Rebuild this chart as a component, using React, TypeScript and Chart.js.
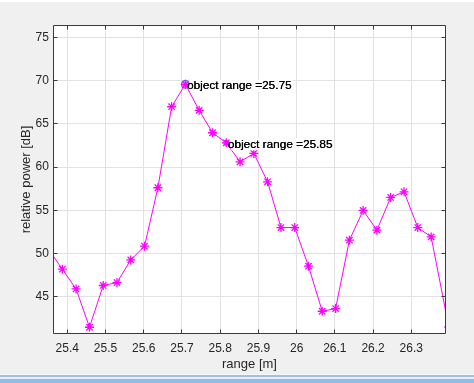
import React, { useEffect, useRef } from 'react';
import { Chart, registerables } from 'chart.js';

Chart.register(...registerables);

const rangeValues = [
  25.351, 25.387, 25.423, 25.458, 25.494, 25.53, 25.566, 25.602, 25.637, 25.673,
  25.709, 25.745, 25.78, 25.816, 25.852, 25.888, 25.924, 25.959, 25.995, 26.031,
  26.067, 26.102, 26.138, 26.174, 26.21, 26.246, 26.281, 26.317, 26.352, 26.398,
];
const powerValues = [
  50.5, 48.18, 45.9, 41.47, 46.3, 46.64, 49.26, 50.84, 57.6, 66.97,
  69.56, 66.55, 63.96, 62.8, 60.6, 61.57, 58.29, 53.0, 53.0, 48.53,
  43.32, 43.63, 51.54, 54.98, 52.7, 56.48, 57.13, 53.0, 51.92, 41.5,
];
const xTicks = [25.4, 25.5, 25.6, 25.7, 25.8, 25.9, 26.0, 26.1, 26.2, 26.3];
const xTickLabels = ['25.4', '25.5', '25.6', '25.7', '25.8', '25.9', '26', '26.1', '26.2', '26.3'];
const yTicks = [45, 50, 55, 60, 65, 70, 75];
const yTickLabels = ['45', '50', '55', '60', '65', '70', '75'];
const tipIndices = [10, 13];
const tipLabels = ['object range =25.75', 'object range =25.85'];

const FONT = "'Liberation Sans', Arial, Helvetica, sans-serif";
const TEXT = '#262626';

const matlabPlugin = {
  id: 'matlabLook',
  beforeDraw(chart: any) {
    const { ctx, width, height, chartArea: a } = chart;
    ctx.save();
    ctx.fillStyle = '#ffffff';
    ctx.fillRect(0, 0, width, height);
    ctx.fillStyle = '#f0f0f0';
    ctx.fillRect(0, 2, width, 372);
    ctx.fillStyle = '#ffffff';
    ctx.fillRect(a.left, a.top, a.right - a.left, a.bottom - a.top);
    ctx.restore();
  },
  afterDatasetsDraw(chart: any) {
    const { ctx } = chart;
    const xs = chart.scales.x;
    const ys = chart.scales.y;
    ctx.save();
    ctx.font = `11.8px ${FONT}`;
    ctx.textBaseline = 'middle';
    ctx.textAlign = 'left';
    tipIndices.forEach((idx, k) => {
      const px = xs.getPixelForValue(rangeValues[idx]);
      const py = ys.getPixelForValue(powerValues[idx]);
      const tx = px + 1.5;
      const ty = py + 1.5;
      const w = ctx.measureText(tipLabels[k]).width;
      ctx.fillStyle = '#ffffff';
      ctx.fillRect(tx + 3, ty - 6, w - 2, 12);
      ctx.fillStyle = '#000000';
      ctx.fillText(tipLabels[k], tx, ty);
      ctx.fillText(tipLabels[k], tx + 0.3, ty);
    });
    ctx.restore();
  },
  afterDraw(chart: any) {
    const { ctx, width, chartArea: a } = chart;
    const xs = chart.scales.x;
    const ys = chart.scales.y;
    const L = Math.floor(a.left) + 0.5;
    const R = Math.floor(a.right) + 0.5;
    const T = Math.floor(a.top) + 0.5;
    const B = Math.floor(a.bottom) + 0.5;
    ctx.save();
    ctx.strokeStyle = '#3a3a3a';
    ctx.lineWidth = 1;
    ctx.beginPath();
    ctx.rect(L, T, R - L, B - T);
    const tl = 4;
    xTicks.forEach((v) => {
      const p = Math.floor(xs.getPixelForValue(v)) + 0.5;
      ctx.moveTo(p, B);
      ctx.lineTo(p, B - tl);
      ctx.moveTo(p, T);
      ctx.lineTo(p, T + tl);
    });
    yTicks.forEach((v) => {
      const p = Math.floor(ys.getPixelForValue(v)) + 0.5;
      ctx.moveTo(L, p);
      ctx.lineTo(L + tl, p);
      ctx.moveTo(R, p);
      ctx.lineTo(R - tl, p);
    });
    ctx.stroke();
    // window chrome at bottom
    ctx.fillStyle = '#f7f7f7';
    ctx.fillRect(0, 374, width, 1);
    ctx.fillStyle = '#9fc2e2';
    ctx.fillRect(0, 375, width, 2);
    ctx.fillStyle = '#e6eff8';
    ctx.fillRect(0, 377, width, 2);
    ctx.fillStyle = '#95bce0';
    ctx.fillRect(0, 379, width, 4);
    ctx.restore();
  },
};

export default function App() {
  const canvasRef = useRef<HTMLCanvasElement | null>(null);

  useEffect(() => {
    if (!canvasRef.current) return;
    const chart = new Chart(canvasRef.current, {
      type: 'line',
      data: {
        datasets: [
          {
            label: 'power',
            data: rangeValues.map((x, i) => ({ x, y: powerValues[i] })),
            borderColor: '#ff00ff',
            borderWidth: 1,
            pointStyle: 'star',
            pointRadius: 4.5,
            pointBorderColor: '#ff00ff',
            pointBackgroundColor: '#ff00ff',
            pointBorderWidth: 1.3,
            tension: 0,
          },
          {
            label: 'tips',
            data: tipIndices.map((i) => ({ x: rangeValues[i], y: powerValues[i] })),
            showLine: false,
            pointStyle: 'circle',
            pointRadius: [4, 2.5],
            pointBorderColor: 'rgba(60,60,230,0.9)',
            pointBackgroundColor: 'rgba(170,160,255,0.6)',
            pointBorderWidth: 1,
          },
        ],
      },
      options: {
        animation: false,
        responsive: true,
        maintainAspectRatio: false,
        events: [],
        layout: { padding: { left: 0, top: 25.7, right: 28.3, bottom: 0 } },
        plugins: { legend: { display: false }, tooltip: { enabled: false } },
        scales: {
          x: {
            type: 'linear',
            min: 25.3634,
            max: 26.39,
            afterBuildTicks: (s: any) => {
              s.ticks = xTicks.map((v) => ({ value: v }));
            },
            afterFit: (s: any) => {
              s.height = 49.7;
            },
            ticks: {
              callback: (_v: any, i: number) => xTickLabels[i],
              padding: 8,
              maxRotation: 0,
              autoSkip: false,
              color: TEXT,
              font: { family: FONT, size: 12 },
            },
            grid: { color: '#e2e2e2', drawTicks: false },
            border: { display: false },
            title: {
              display: true,
              text: 'range [m]',
              color: TEXT,
              font: { family: FONT, size: 13 },
              padding: { top: 0, bottom: 10.4 },
            },
          },
          y: {
            type: 'linear',
            min: 40.77,
            max: 76.34,
            afterBuildTicks: (s: any) => {
              s.ticks = yTicks.map((v) => ({ value: v }));
            },
            afterFit: (s: any) => {
              s.width = 53.3;
            },
            ticks: {
              callback: (_v: any, i: number) => yTickLabels[i],
              padding: 4.5,
              autoSkip: false,
              color: TEXT,
              font: { family: FONT, size: 12 },
            },
            grid: { color: '#e2e2e2', drawTicks: false },
            border: { display: false },
            title: {
              display: true,
              text: 'relative power [dB]',
              color: TEXT,
              font: { family: FONT, size: 13 },
              padding: { top: 18.2, bottom: 0 },
            },
          },
        },
      },
      plugins: [matlabPlugin],
    });
    return () => chart.destroy();
  }, []);

  return (
    <div style={{ position: 'fixed', left: 0, top: 0, width: 474, height: 383 }}>
      <canvas ref={canvasRef} />
    </div>
  );
}
